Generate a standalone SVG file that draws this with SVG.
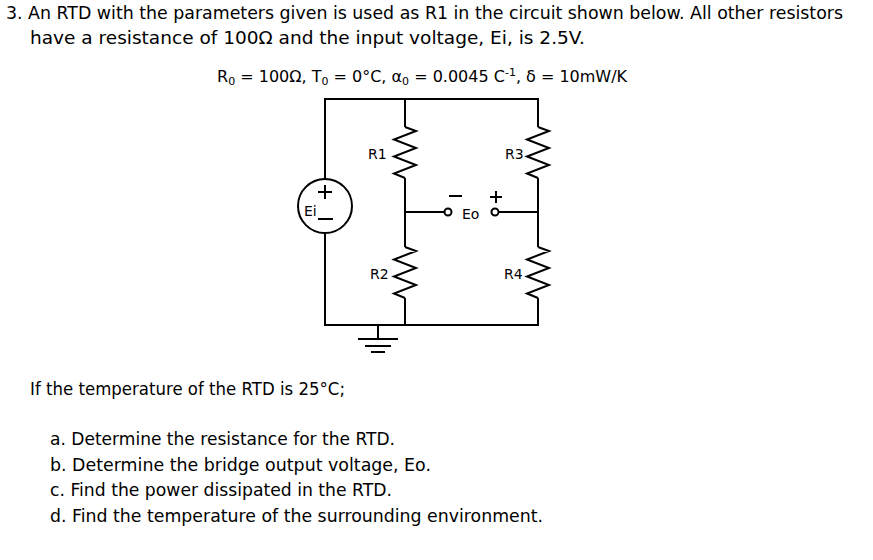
<svg xmlns="http://www.w3.org/2000/svg" width="873" height="560" viewBox="0 0 873 560">
<style>
.t{font-family:"DejaVu Sans",sans-serif;font-size:17.5px;fill:#000}
.l{font-family:"DejaVu Sans",sans-serif;font-size:14px;fill:#000}
.w{fill:none;stroke:#000;stroke-width:2;stroke-linejoin:miter}
</style>
<rect width="873" height="560" fill="#fff"/>
<text class="t" x="6" y="19" textLength="837" lengthAdjust="spacingAndGlyphs">3. An RTD with the parameters given is used as R1 in the circuit shown below. All other resistors</text>
<text class="t" x="30" y="44" textLength="555" lengthAdjust="spacingAndGlyphs">have a resistance of 100Ω and the input voltage, Ei, is 2.5V.</text>
<text class="t" x="217" y="82" style="font-size:16px">R<tspan style="font-size:11px" dy="3">0</tspan><tspan dy="-3"> = 100Ω, T</tspan><tspan style="font-size:11px" dy="3">0</tspan><tspan dy="-3"> = 0°C, α</tspan><tspan style="font-size:11px" dy="3">0</tspan><tspan dy="-3"> = 0.0045 C</tspan><tspan style="font-size:11px" dy="-6">-1</tspan><tspan dy="6">, δ = 10mW/K</tspan></text>
<g id="connectors" class="w">
<polyline points="325,179 325,99 538,99 538,127"/>
<line x1="405" y1="99" x2="405" y2="127"/>
<polyline points="325,233 325,325 538,325 538,298"/>
<line x1="405" y1="178" x2="405" y2="247"/>
<line x1="405" y1="298" x2="405" y2="325"/>
<line x1="538" y1="178" x2="538" y2="247"/>
<line x1="405" y1="212" x2="444" y2="212"/>
<line x1="499" y1="212" x2="538" y2="212"/>
</g>
<g id="R1"><polyline class="w" points="405,127 416,131 394,139.5 416,148 394,156.5 416,165 394,173.5 405,178"/><text class="l" x="368" y="159">R1</text></g>
<g id="R3"><polyline class="w" points="538,127 549,131 527,139.5 549,148 527,156.5 549,165 527,173.5 538,178"/><text class="l" x="505" y="159">R3</text></g>
<g id="R2"><polyline class="w" points="405,247 416,251 394,259.5 416,268 394,276.5 416,285 394,293.5 405,298"/><text class="l" x="370" y="279">R2</text></g>
<g id="R4"><polyline class="w" points="538,247 549,251 527,259.5 549,268 527,276.5 549,285 527,293.5 538,298"/><text class="l" x="504" y="279">R4</text></g>
<g id="Ei"><circle class="w" cx="325" cy="206" r="27"/><text class="l" x="304" y="216">Ei</text>
<line class="w" x1="318" y1="192" x2="332" y2="192"/><line class="w" x1="325" y1="185" x2="325" y2="199"/>
<line class="w" x1="318" y1="219" x2="333" y2="219"/></g>
<g id="Eo"><circle class="w" cx="448" cy="212" r="3.5"/><circle class="w" cx="495" cy="212" r="3.5"/>
<text class="l" x="462" y="219">Eo</text>
<line class="w" x1="449" y1="196" x2="462" y2="196"/>
<line class="w" x1="490" y1="197" x2="502" y2="197"/><line class="w" x1="496" y1="191" x2="496" y2="203"/></g>
<g id="ground" class="w"><line x1="378" y1="325" x2="378" y2="339"/><line x1="358" y1="339" x2="398" y2="339"/><line x1="365" y1="346" x2="391" y2="346"/><line x1="371" y1="352" x2="385" y2="352"/></g>
<text class="t" x="30" y="395" textLength="315" lengthAdjust="spacingAndGlyphs">If the temperature of the RTD is 25°C;</text>
<text class="t" x="50" y="445" textLength="345" lengthAdjust="spacingAndGlyphs">a. Determine the resistance for the RTD.</text>
<text class="t" x="50" y="471" textLength="381" lengthAdjust="spacingAndGlyphs">b. Determine the bridge output voltage, Eo.</text>
<text class="t" x="50" y="496" textLength="342" lengthAdjust="spacingAndGlyphs">c. Find the power dissipated in the RTD.</text>
<text class="t" x="50" y="522" textLength="493" lengthAdjust="spacingAndGlyphs">d. Find the temperature of the surrounding environment.</text>
</svg>
